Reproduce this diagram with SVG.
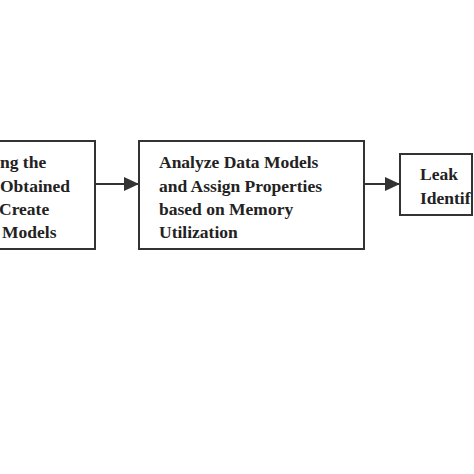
<svg xmlns="http://www.w3.org/2000/svg" width="474" height="474" viewBox="0 0 474 474">
<defs>
<style>
.box{fill:#fff;stroke:#333;stroke-width:2}
.t{font-family:"Liberation Serif","Times New Roman",serif;font-weight:bold;font-size:17.5px;fill:#222}
.c{stroke:#333;stroke-width:2;fill:none}
</style>
<marker id="ah" markerWidth="16" markerHeight="14" refX="15" refY="7" orient="auto" markerUnits="userSpaceOnUse">
<path d="M0,0 L15,7 L0,14 Z" fill="#333"/>
</marker>
</defs>
<rect width="474" height="474" fill="#fff"/>
<g id="node1">
<rect class="box" x="-10" y="141" width="105" height="108"/>
<text class="t" x="0" y="168">ng the</text>
<text class="t" x="0" y="192">Obtained</text>
<text class="t" x="-1" y="215">Create</text>
<text class="t" x="2" y="238">Models</text>
</g>
<g id="node2">
<rect class="box" x="139" y="141" width="225" height="108"/>
<text class="t" x="159" y="168">Analyze Data Models</text>
<text class="t" x="159" y="192">and Assign Properties</text>
<text class="t" x="159" y="215">based on Memory</text>
<text class="t" x="159" y="238">Utilization</text>
</g>
<g id="node3">
<rect class="box" x="400" y="154" width="72" height="61"/>
<text class="t" x="420" y="180">Leak</text>
<text class="t" x="420" y="204">Identif</text>
</g>
<g id="connectors">
<line class="c" x1="95" y1="184" x2="139" y2="184" marker-end="url(#ah)"/>
<line class="c" x1="364" y1="184" x2="400" y2="184" marker-end="url(#ah)"/>
</g>
</svg>
